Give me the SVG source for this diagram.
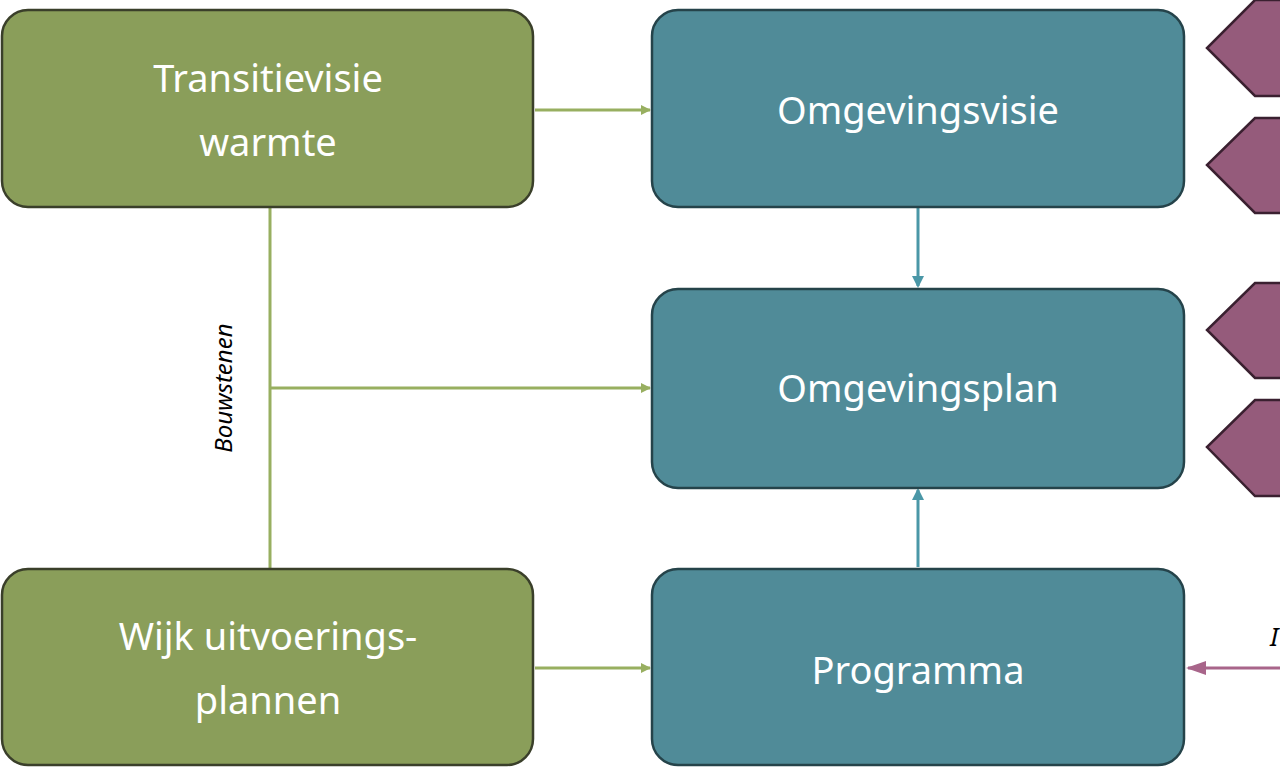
<svg xmlns="http://www.w3.org/2000/svg" width="1280" height="768" viewBox="0 0 1280 768">
<style>
.g{fill:#8a9e5a;stroke:#3a3f2a;stroke-width:2.5}
.t{fill:#508b98;stroke:#25434a;stroke-width:2.5}
.p{fill:#955b7b;stroke:#3a2030;stroke-width:2.5}
.tx{font-family:"Noto Sans","Open Sans",sans-serif;font-size:38px;fill:#fff;text-anchor:middle}
.gl{stroke:#98af60;stroke-width:3;fill:none}
.tl{stroke:#4a97a7;stroke-width:3;fill:none}
.pl{stroke:#a8658a;stroke-width:3;fill:none}
</style>
<defs>
<marker id="ag" markerWidth="10" markerHeight="10" refX="9" refY="5" orient="auto" markerUnits="userSpaceOnUse" viewBox="0 0 10 10"><path d="M0,0L10,5L0,10z" fill="#98af60"/></marker>
<marker id="at" markerWidth="12" markerHeight="12" refX="10" refY="6" orient="auto" markerUnits="userSpaceOnUse" viewBox="0 0 12 12"><path d="M0,0L12,6L0,12z" fill="#4a97a7"/></marker>
<marker id="ap" markerWidth="20" markerHeight="14" refX="18" refY="7" orient="auto" markerUnits="userSpaceOnUse" viewBox="0 0 20 14"><path d="M0,0L20,7L0,14z" fill="#a8658a"/></marker>
</defs>
<rect width="1280" height="768" fill="#fff"/>
<g id="connectors">
<line class="gl" x1="535" y1="110" x2="650" y2="110" marker-end="url(#ag)" style="stroke-width:3"/>
<line class="gl" x1="270" y1="208" x2="270" y2="568"/>
<line class="gl" x1="270" y1="388" x2="650" y2="388" marker-end="url(#ag)"/>
<line class="gl" x1="535" y1="668" x2="650" y2="668" marker-end="url(#ag)"/>
<line class="tl" x1="918" y1="208" x2="918" y2="286" marker-end="url(#at)"/>
<line class="tl" x1="918" y1="567" x2="918" y2="490" marker-end="url(#at)"/>
<line class="pl" x1="1280" y1="668" x2="1188" y2="668" marker-end="url(#ap)"/>
<text x="232" y="388" transform="rotate(-90 232 388)" text-anchor="middle" font-family="Noto Sans,sans-serif" font-size="24" font-style="italic" fill="#000">Bouwstenen</text>
<text x="1270" y="646" font-family="Noto Sans,sans-serif" font-size="26" font-style="italic" fill="#000">I</text>
</g>
<g id="transitievisie"><rect class="g" x="2" y="10" width="531" height="197" rx="26"/><text class="tx" x="268" y="92">Transitievisie</text><text class="tx" x="268" y="156">warmte</text></g>
<g id="wijk"><rect class="g" x="2" y="569" width="531" height="196" rx="26"/><text class="tx" x="268" y="650">Wijk uitvoerings-</text><text class="tx" x="268" y="714">plannen</text></g>
<g id="omgevingsvisie"><rect class="t" x="652" y="10" width="532" height="197" rx="26"/><text class="tx" x="918" y="124">Omgevingsvisie</text></g>
<g id="omgevingsplan"><rect class="t" x="652" y="289" width="532" height="199" rx="26"/><text class="tx" x="918" y="402">Omgevingsplan</text></g>
<g id="programma"><rect class="t" x="652" y="569" width="532" height="196" rx="26"/><text class="tx" x="918" y="684">Programma</text></g>
<g id="p1"><path class="p" d="M1290,0L1255,0L1207,48L1255,96L1290,96"/></g>
<g id="p2"><path class="p" d="M1290,118L1255,118L1207,165L1255,213L1290,213"/></g>
<g id="p3"><path class="p" d="M1290,283L1255,283L1207,330L1255,378L1290,378"/></g>
<g id="p4"><path class="p" d="M1290,400L1255,400L1207,447L1255,496L1290,496"/></g>
</svg>
